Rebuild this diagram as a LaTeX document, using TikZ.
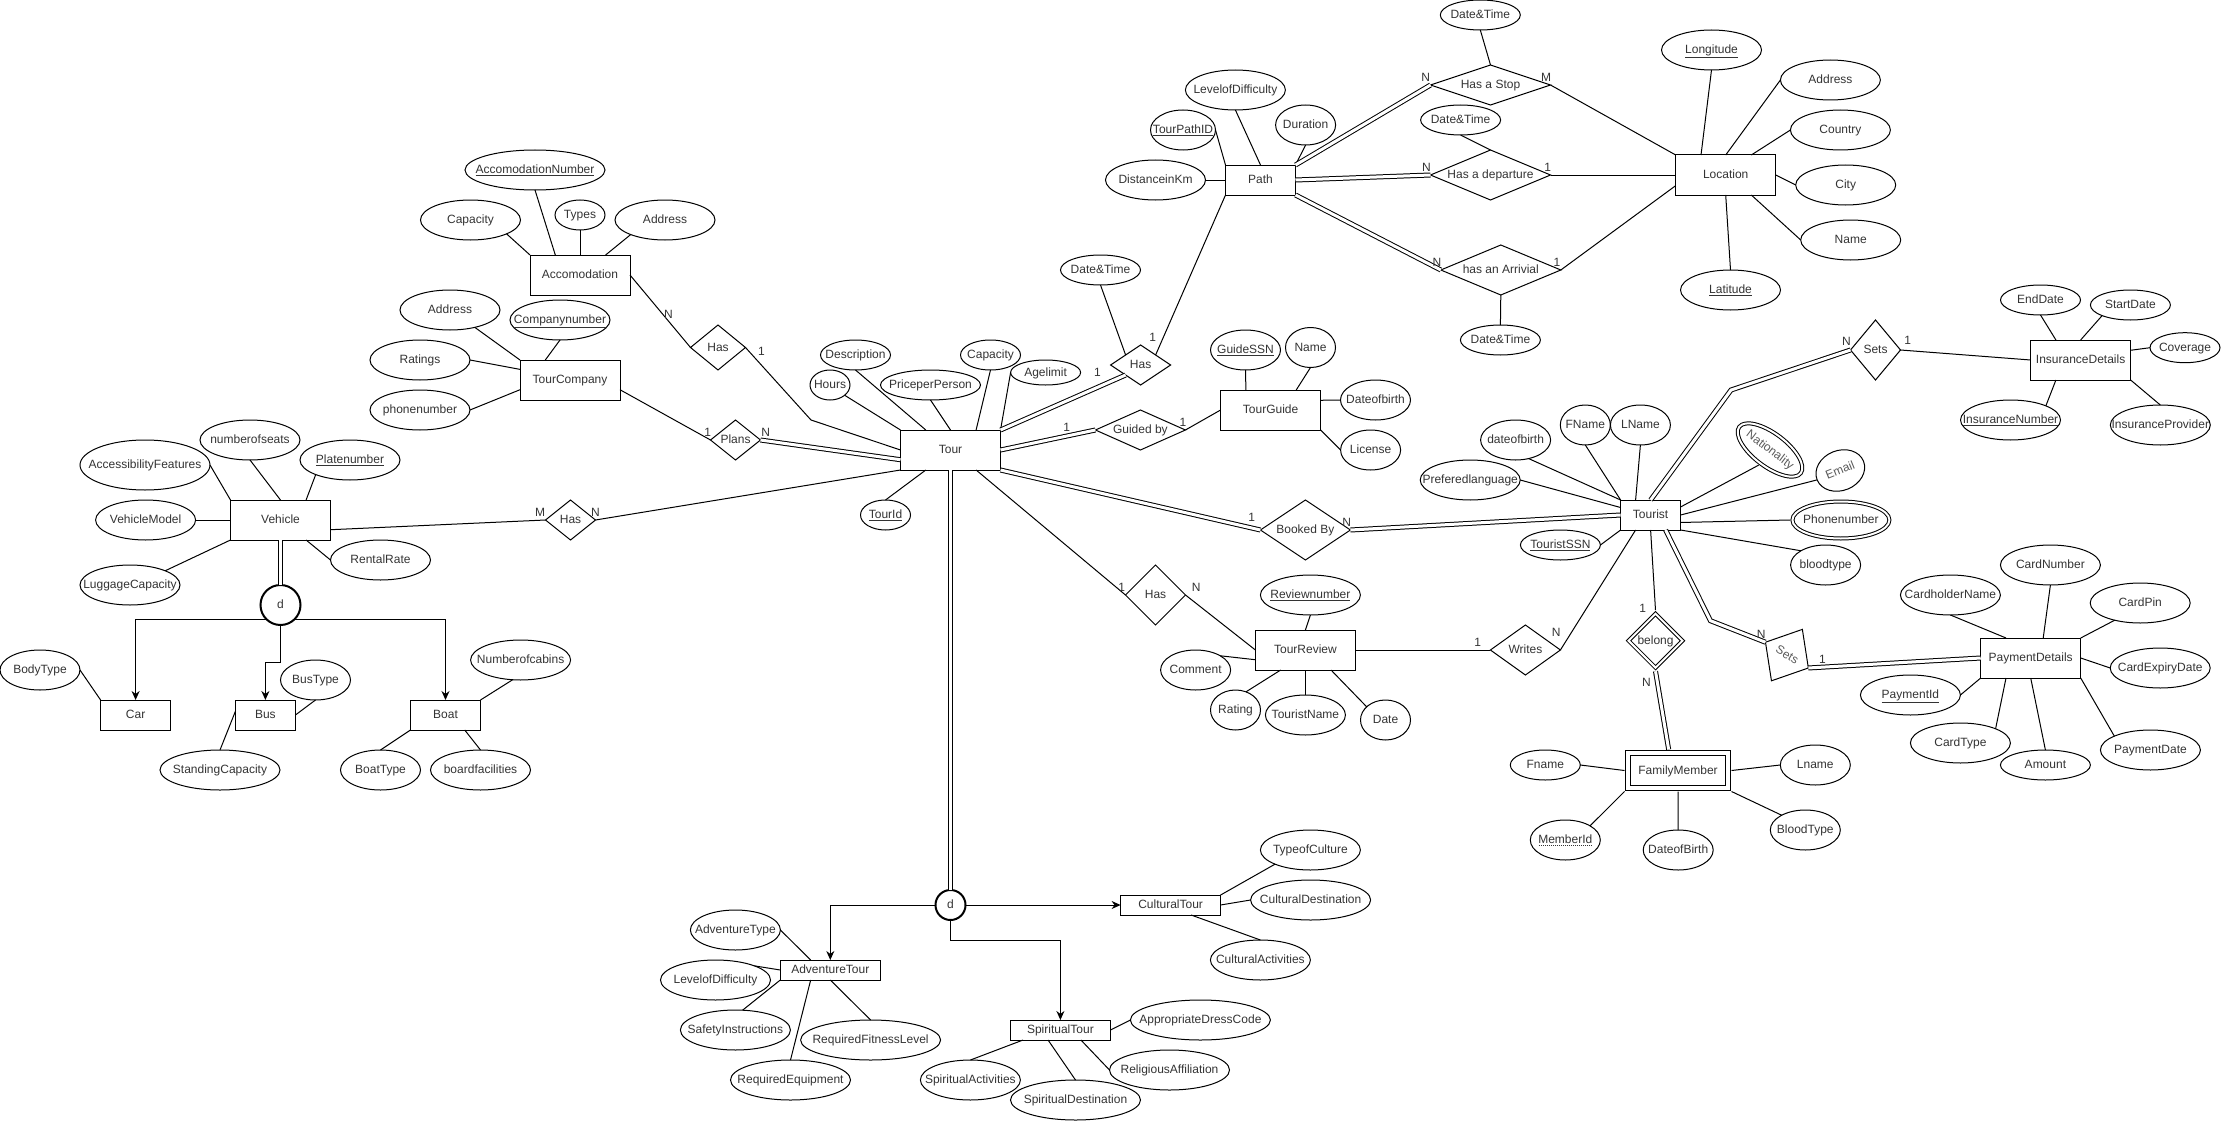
\documentclass[tikz,border=0pt]{standalone}
\usepackage{fontspec}
\setmainfont{Liberation Sans}
\usetikzlibrary{shapes.geometric, arrows.meta}
\newcommand{\dotul}[1]{\setbox0=\hbox{#1}\rlap{\raisebox{-2.6pt}{\hbox to\wd0{\leaders\hbox to 2pt{\hss\rule{1pt}{.9pt}\hss}\hfill}}}\box0}
\tikzset{
    sized/.style={draw, inner sep=0pt, outer sep=0pt, font=\fontsize{12}{14}\selectfont,
        text=black!80, text height=9pt, text depth=2pt,
        execute at begin node={\hbox to 0pt\bgroup\hss},
        execute at end node={\hss\egroup}},
    ent/.style 2 args={sized, rectangle, minimum width=#1, minimum height=#2},
    attr/.style 2 args={sized, ellipse, minimum width=#1, minimum height=#2},
    rel/.style 2 args={sized, diamond, minimum width=#1, minimum height=#2},
    disj/.style={sized, circle, line width=2pt, minimum size=#1},
    twice/.style={double, double distance=#1, outer sep=1.5pt+0.5*#1},
    card/.style={inner sep=0pt, text=black!80, font=\fontsize{12}{14}\selectfont},
    total/.style={double, double distance=3pt},
    isa/.style={-{Stealth[length=9pt,width=8pt]}}
}
\begin{document}
\begin{tikzpicture}[x=1pt, y=-1pt, line width=1pt]
    \useasboundingbox (0,0) rectangle (2222,1121);
    \node[ent={100}{40}] (vehicle) at (280.5,520) {Vehicle};
    \node[attr={130}{50}] (vaccess) at (145,465) {AccessibilityFeatures};
    \node[attr={100}{40}] (vseats) at (250,440) {numberofseats};
    \node[attr={100}{40}] (vplate) at (350,460) {\underline{Platenumber}};
    \node[attr={100}{40}] (vmodel) at (145.6,520) {VehicleModel};
    \node[attr={100}{40}] (vluggage) at (130,585) {LuggageCapacity};
    \node[attr={100}{40}] (vrate) at (380.5,560) {RentalRate};
    \node[disj=40pt] (dvehicle) at (280.5,605) {d};
    \node[ent={70}{30}] (car) at (135.6,715) {Car};
    \node[ent={60}{30}] (bus) at (265.4,715) {Bus};
    \node[ent={70}{30}] (boat) at (445.5,715) {Boat};
    \node[attr={80}{40}] (cbody) at (40,670) {BodyType};
    \node[attr={70}{40}] (bustype) at (315.5,680) {BusType};
    \node[attr={120}{40}] (busstand) at (220,770) {StandingCapacity};
    \node[attr={100}{40}] (bcabins) at (520.6,660) {Numberofcabins};
    \node[attr={80}{40}] (boattype) at (380.5,770) {BoatType};
    \node[attr={100}{40}] (bfacil) at (480.5,770) {boardfacilities};
    \node[rel={50}{40}] (hasvehicle) at (570.5,520) {Has};

    \node[ent={100}{40}] (accom) at (580,275) {Accomodation};
    \node[attr={140}{40}] (accnum) at (535,170) {\underline{AccomodationNumber}};
    \node[attr={100}{40}] (acccap) at (470.5,220) {Capacity};
    \node[attr={50}{30}] (acctypes) at (580,215) {Types};
    \node[attr={100}{40}] (accaddr) at (665,220) {Address};
    \node[rel={55}{45}] (hasaccom) at (718,347.5) {Has};

    \node[ent={100}{40}] (company) at (570,380) {TourCompany};
    \node[attr={100}{40}] (coaddr) at (450,310) {Address};
    \node[attr={100}{40}] (conum) at (560,320) {\underline{Companynumber}};
    \node[attr={100}{40}] (corate) at (420,360) {Ratings};
    \node[attr={100}{40}] (cophone) at (420,410) {phonenumber};
    \node[rel={50}{40}] (plans) at (735.5,440) {Plans};

    \node[ent={100}{40}] (tour) at (950.5,450) {Tour};
    \node[attr={70}{30}] (tdesc) at (855.5,355) {Description};
    \node[attr={40}{30}] (thours) at (830,385) {Hours};
    \node[attr={100}{30}] (tprice) at (930.5,385) {PriceperPerson};
    \node[attr={60}{30}] (tcap) at (990.5,355) {Capacity};
    \node[attr={70}{25}] (tage) at (1045.6,372.5) {Agelimit};
    \node[attr={50}{30}] (tid) at (885.5,515) {\underline{TourId}};
    \coordinate (bendaccom) at (811,420);

    \node[rel={60}{40}] (haspath) at (1140.6,365) {Has};
    \node[attr={80}{30}] (hastime) at (1100.5,270) {Date\&Time};
    \node[ent={70}{30}] (path) at (1260.5,180) {Path};
    \node[attr={100}{40}] (pdist) at (1155.5,180) {DistanceinKm};
    \node[attr={65}{40}] (pid) at (1183,130) {\underline{TourPathID}};
    \node[attr={100}{40}] (plevel) at (1235.4,90) {LevelofDifficulty};
    \node[attr={60}{40}] (pdur) at (1305.6,125) {Duration};
    \node[rel={120}{40}] (stop) at (1490.5,85) {Has a Stop};
    \node[rel={120}{50}] (depart) at (1490.5,175) {Has a departure};
    \node[rel={120}{50}] (arrive) at (1500.8,270) {has an Arrivial};
    \node[attr={80}{30}] (stoptime) at (1480.3,15) {Date\&Time};
    \node[attr={80}{30}] (departtime) at (1460.6,120) {Date\&Time};
    \node[attr={80}{30}] (arrivetime) at (1500.4,340) {Date\&Time};
    \node[ent={100}{40}] (location) at (1725.7,175) {Location};
    \node[attr={100}{40}] (llong) at (1711.5,50) {\underline{Longitude}};
    \node[attr={100}{40}] (laddr) at (1830.4,80) {Address};
    \node[attr={100}{40}] (lcountry) at (1840.4,130) {Country};
    \node[attr={100}{40}] (lcity) at (1845.7,185) {City};
    \node[attr={100}{40}] (lname) at (1850.7,240) {Name};
    \node[attr={100}{40}] (llat) at (1730.5,290) {\underline{Latitude}};

    \node[rel={90}{40}] (guided) at (1140.4,430) {Guided by};
    \node[ent={100}{40}] (guide) at (1270.6,410) {TourGuide};
    \node[attr={70}{40}] (gssn) at (1245.5,350) {\underline{GuideSSN}};
    \node[attr={50}{40}] (gname) at (1310.5,347.5) {Name};
    \node[attr={70}{40}] (gdob) at (1375.5,400) {Dateofbirth};
    \node[attr={60}{40}] (glic) at (1370.6,450) {License};

    \node[rel={90}{60}] (booked) at (1305.4,530) {Booked By};
    \node[rel={60}{60}] (hasreview) at (1155.5,595) {Has};
    \node[ent={100}{40}] (review) at (1305.4,650) {TourReview};
    \node[attr={100}{40}] (rnum) at (1310.4,595) {\underline{Reviewnumber}};
    \node[attr={70}{40}] (rcomment) at (1195.6,670) {Comment};
    \node[attr={50}{40}] (rrating) at (1235.5,710) {Rating};
    \node[attr={80}{40}] (rname) at (1305.4,715) {TouristName};
    \node[attr={50}{40}] (rdate) at (1385.5,720) {Date};
    \node[rel={70}{50}] (writes) at (1525.4,650) {Writes};

    \node[ent={60}{30}] (tourist) at (1650.6,515) {Tourist};
    \node[attr={70}{40}] (tdob) at (1515.6,440) {dateofbirth};
    \node[attr={50}{40}] (tfname) at (1585.3,425) {FName};
    \node[attr={60}{40}] (tlname) at (1640.4,425) {LName};
    \node[attr={100}{40}] (tlang) at (1470.2,480) {Preferedlanguage};
    \node[attr={77}{33}, twice=2pt, rotate=-37, text=black!65] (tnat) at (1770,450) {Nationality};
    \node[attr={50}{40}, rotate=22, text=black!65] (temail) at (1840.3,470.5) {Email};
    \node[attr={97}{37}, twice=2pt] (tphone) at (1840.9,520) {Phonenumber};
    \node[attr={70}{40}] (tblood) at (1825.6,565) {bloodtype};
    \node[attr={80}{30}] (tssn) at (1560.4,545) {\underline{TouristSSN}};
    \coordinate (bendinsure) at (1731,390);
    \coordinate (bendpay) at (1710.4,620.7);

    \node[rel={50}{60}] (setsinsure) at (1875.5,350) {Sets};
    \node[ent={100}{40}] (insure) at (2080.6,360) {InsuranceDetails};
    \node[attr={80}{30}] (iend) at (2040.5,300) {EndDate};
    \node[attr={80}{30}] (istart) at (2130.4,305) {StartDate};
    \node[attr={70}{30}] (icover) at (2185,347.7) {Coverage};
    \node[attr={100}{40}] (inum) at (2010.5,420) {\underline{InsuranceNumber}};
    \node[attr={100}{40}] (iprov) at (2160.3,425) {InsuranceProvider};

    \node[rel={50}{60}, rotate=-31, text=black!65] (setspay) at (1786.9,655.1) {Sets};
    \node[ent={100}{40}] (pay) at (2030.7,658) {PaymentDetails};
    \node[attr={100}{40}] (paynum) at (2050.4,565) {CardNumber};
    \node[attr={100}{40}] (payholder) at (1950.4,595) {CardholderName};
    \node[attr={100}{40}] (paypin) at (2140.2,603) {CardPin};
    \node[attr={100}{40}] (payexp) at (2160.2,668) {CardExpiryDate};
    \node[attr={100}{40}] (payid) at (1910.4,695) {\underline{PaymentId}};
    \node[attr={100}{40}] (paytype) at (1960.4,743) {CardType};
    \node[attr={90}{30}] (payamount) at (2045.4,765) {Amount};
    \node[attr={100}{40}] (paydate) at (2150.4,750) {PaymentDate};

    \node[rel={56}{56}, twice=2pt] (belong) at (1655.5,640.7) {belong};
    \node[ent={100}{35}, twice=4pt] (family) at (1678,770.5) {FamilyMember};
    \node[attr={70}{30}] (ffname) at (1545.3,765) {Fname};
    \node[attr={70}{40}] (flname) at (1815.3,765) {Lname};
    \node[attr={70}{40}] (fid) at (1565.3,840) {\dotul{MemberId}};
    \node[attr={70}{40}] (fdob) at (1678.2,850) {DateofBirth};
    \node[attr={70}{40}] (fblood) at (1805.3,830) {BloodType};

    \node[disj=30pt] (dtour) at (950.5,905) {d};
    \node[ent={100}{20}] (cultural) at (1170.6,905) {CulturalTour};
    \node[attr={100}{40}] (ctype) at (1310.4,850) {TypeofCulture};
    \node[attr={120}{40}] (cdest) at (1310.6,900) {CulturalDestination};
    \node[attr={100}{40}] (cact) at (1260.4,960) {CulturalActivities};
    \node[ent={100}{20}] (adventure) at (830.3,970) {AdventureTour};
    \node[attr={90}{40}] (atype) at (735.4,930) {AdventureType};
    \node[attr={110}{40}] (alevel) at (715.5,980) {LevelofDifficulty};
    \node[attr={110}{40}] (asafe) at (735.4,1030) {SafetyInstructions};
    \node[attr={140}{40}] (afit) at (870.6,1040) {RequiredFitnessLevel};
    \node[attr={120}{40}] (aequip) at (790.5,1080) {RequiredEquipment};
    \node[ent={100}{20}] (spiritual) at (1060.4,1030) {SpiritualTour};
    \node[attr={140}{40}] (sdress) at (1200.4,1020) {AppropriateDressCode};
    \node[attr={120}{40}] (sfaith) at (1169.5,1070) {ReligiousAffiliation};
    \node[attr={100}{40}] (sact) at (970.4,1080) {SpiritualActivities};
    \node[attr={130}{40}] (sdest) at (1075.5,1100) {SpiritualDestination};

    \draw (vaccess.east) -- (vehicle.north west);
    \draw (vseats.south) -- (vehicle.north);
    \draw (vplate.203) -- (vehicle.38);
    \draw (vmodel.east) -- (vehicle.west);
    \draw (vluggage.22) -- (vehicle.south west);
    \draw (vrate.west) -- (vehicle.-38);
    \draw[total] (vehicle.south) -- (dvehicle.north);
    \draw[isa] (dvehicle.225) -| (car.north);
    \draw[isa] (dvehicle.south) -- ++(0,37.7) -| (bus.north);
    \draw[isa] (dvehicle.-45) -| (boat.north);
    \draw (cbody.east) -- (car.north west);
    \draw (bustype.south) -- (bus.east);
    \draw (busstand.north) -- (bus.173);
    \draw (bcabins.248) -- (boat.north east);
    \draw (boattype.north) -- (boat.south west);
    \draw (bfacil.north) -- (boat.-38.7);
    \draw (vehicle.-11.3) -- (hasvehicle.west);
    \draw (hasvehicle.east) -- (tour.south west);

    \draw (accnum.south) -- (accom.141.3);
    \draw (acccap.-21) -- (accom.north west);
    \draw (acctypes.south) -- (accom.north);
    \draw (accaddr.203) -- (accom.38.7);
    \draw (accom.east) -- (hasaccom.west);
    \draw (hasaccom.east) -- (bendaccom) -- (tour.west);

    \draw (coaddr.-35) -- (company.north west);
    \draw (conum.south) -- (company.141.3);
    \draw (corate.east) -- (company.168.7);
    \draw (cophone.east) -- (company.191.3);
    \draw (company.-11.3) -- (plans.west);
    \draw[total] (plans.east) -- (tour.191.3);

    \draw (tdesc.south) -- (tour.141.3);
    \draw (thours.-35) -- (tour.north west);
    \draw (tprice.south) -- (tour.north);
    \draw (tcap.south) -- (tour.38.7);
    \draw (tage.west) -- (tour.north east);
    \draw (tid.north) -- (tour.-141.3);
    \draw[total] (tour.north east) -- (haspath.south west);
    \draw (hastime.south) -- (haspath.north west);
    \draw (haspath.north east) -- (path.south west);

    \draw (pdist.east) -- (path.west);
    \draw (pid.east) -- (path.north west);
    \draw (plevel.south) -- (path.north);
    \draw (pdur.south) -- (path.north east);
    \draw[total] (path.north east) -- (stop.west);
    \draw[total] (path.east) -- (depart.west);
    \draw[total] (path.south east) -- (arrive.west);
    \draw (stop.north) -- (stoptime.south);
    \draw (depart.north) -- (departtime.south);
    \draw (arrive.south) -- (arrivetime.north);
    \draw (stop.east) -- (location.north west);
    \draw (depart.east) -- (location.west);
    \draw (arrive.east) -- (location.192);
    \draw (llong.south) -- (location.141.3);
    \draw (laddr.west) -- (location.north);
    \draw (lcountry.west) -- (location.38.7);
    \draw (lcity.west) -- (location.east);
    \draw (lname.west) -- (location.-38.7);
    \draw (llat.north) -- (location.south);

    \draw[total] (tour.east) -- (guided.west);
    \draw (guided.east) -- (guide.west);
    \draw (gssn.south) -- (guide.141.3);
    \draw (gname.south) -- (guide.38.7);
    \draw (gdob.west) -- (guide.11.3);
    \draw (glic.west) -- (guide.south east);

    \draw[total] (tour.south east) -- (booked.west);
    \draw[total] (booked.east) -- (tourist.west);
    \draw (tour.-38.7) -- (hasreview.west);
    \draw (hasreview.east) -- (review.west);
    \draw (rnum.south) -- (review.north);
    \draw (rcomment.30.6) -- (review.191.3);
    \draw (rrating.60) -- (review.-141.3);
    \draw (rname.north) -- (review.south);
    \draw (rdate.145) -- (review.-38.7);
    \draw (review.east) -- (writes.west);
    \draw (writes.east) -- (tourist.225);

    \draw (tdob.-55) -- (tourist.north west);
    \draw (tfname.south) -- (tourist.north west);
    \draw (tlname.south) -- (tourist.135);
    \draw (tlang.east) -- (tourist.166.9);
    \draw (tnat.south) -- (tourist.15.5);
    \draw (temail.west) -- (tourist.east);
    \draw (tphone.west) -- (tourist.-14.4);
    \draw (tblood.150) -- (tourist.south east);
    \draw (tssn.east) -- (tourist.south west);

    \draw[total] (tourist.north) -- (bendinsure) -- (setsinsure.west);
    \draw (setsinsure.east) -- (insure.west);
    \draw (iend.south) -- (insure.141.3);
    \draw (istart.south west) -- (insure.north);
    \draw (icover.west) -- (insure.11.3);
    \draw (inum.north east) -- (insure.-141.3);
    \draw (iprov.north) -- (insure.south east);

    \draw[total] (tourist.-45) -- (bendpay) -- (setspay.west);
    \draw[total] (setspay.east) -- (pay.west);
    \draw (payholder.south) -- (pay.141);
    \draw (paynum.south) -- (pay.58);
    \draw (paypin.214.6) -- (pay.north east);
    \draw (payexp.west) -- (pay.east);
    \draw (payid.east) -- (pay.south west);
    \draw (paytype.22.4) -- (pay.-141);
    \draw (payamount.north) -- (pay.south);
    \draw (paydate.159.6) -- (pay.south east);

    \draw (tourist.south) -- (belong.north);
    \draw[total] (belong.south) -- (family.114.8);
    \draw (ffname.east) -- (family.west);
    \draw (flname.west) -- (family.east);
    \draw (fid.north east) -- (family.south west);
    \draw (fdob.north) -- (family.south);
    \draw (fblood.148) -- (family.south east);

    \draw[total] (tour.south) -- (dtour.north);
    \draw[isa] (dtour.east) -- (cultural.west);
    \draw[isa] (dtour.west) -| (adventure.north);
    \draw[isa] (dtour.south) -- ++(0,20.3) -| (spiritual.north);
    \draw (ctype.south west) -- (cultural.north east);
    \draw (cdest.west) -- (cultural.east);
    \draw (cact.north) -- (cultural.-26.6);
    \draw (atype.east) -- (adventure.153.4);
    \draw (alevel.north east) -- (adventure.west);
    \draw (asafe.70) -- (adventure.south west);
    \draw (aequip.north) -- (adventure.-153.4);
    \draw (afit.north) -- (adventure.south);
    \draw (sdress.west) -- (spiritual.east);
    \draw (sfaith.west) -- (spiritual.-26.6);
    \draw (sdest.north) -- (spiritual.-141.3);
    \draw (sact.north) -- (spiritual.195);

    \node[card] (cm1) at (540,512.7) {M};
    \node[card] (cn1) at (595.5,512.7) {N};
    \node[card] (cn2) at (668.4,314) {N};
    \node[card] (co1) at (761.4,351.7) {1};
    \node[card] (co2) at (707.8,432.7) {1};
    \node[card] (cn3) at (765.6,432.7) {N};
    \node[card] (co3) at (1097.5,372.7) {1};
    \node[card] (co4) at (1152.6,337.4) {1};
    \node[card] (co5) at (1066.6,427.7) {1};
    \node[card] (co6) at (1183,422.7) {1};
    \node[card] (co7) at (1251.8,517.7) {1};
    \node[card] (cn4) at (1346.7,522.3) {N};
    \node[card] (co8) at (1121.7,587.7) {1};
    \node[card] (cn5) at (1196.3,587.7) {N};
    \node[card] (co9) at (1477.6,642.7) {1};
    \node[card] (cn6) at (1556.2,632.7) {N};
    \node[card] (cn7) at (1425.8,77.7) {N};
    \node[card] (cm2) at (1546,77.7) {M};
    \node[card] (cn8) at (1426.5,167.7) {N};
    \node[card] (co10) at (1547.8,167.7) {1};
    \node[card] (cn9) at (1436.9,262.7) {N};
    \node[card] (co11) at (1557,262.7) {1};
    \node[card] (cn10) at (1846.5,341.3) {N};
    \node[card] (co12) at (1907.7,340.7) {1};
    \node[card] (co13) at (1642.7,608) {1};
    \node[card] (cn11) at (1646.4,682.7) {N};
    \node[card] (cn12) at (1761.2,634.3) {N};
    \node[card] (co14) at (1822.5,659.3) {1};
\end{tikzpicture}
\end{document}
